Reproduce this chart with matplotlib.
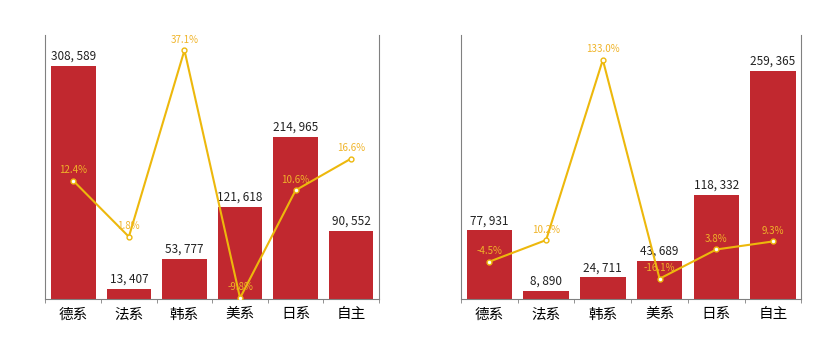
import matplotlib
matplotlib.use('Agg')
import matplotlib.pyplot as plt
import numpy as np

plt.rcParams['font.family'] = ['Noto Sans CJK SC', 'DejaVu Sans']

# Data.
categories = ['德系', '法系', '韩系', '美系', '日系', '自主']
left_sales = [308589, 13407, 53777, 121618, 214965, 90552]
left_growth = [12.4, 1.8, 37.1, -9.8, 10.6, 16.6]
right_sales = [77931, 8890, 24711, 43689, 118332, 259365]
right_growth = [-4.5, 10.2, 133.0, -16.1, 3.8, 9.3]

bar_color = '#C1282F'
line_color = '#EDB80C'
label_color = '#F0B429'
axis_color = '#808080'


def draw_panel(fig, rect, sales, growth, ymax, glim):
    ax = fig.add_axes(rect)
    x = np.arange(len(categories))
    ax.bar(x, sales, width=0.8, color=bar_color, zorder=2)
    ax.set_xlim(-0.5, len(categories) - 0.5)
    ax.set_ylim(0, ymax)
    for xi, v in zip(x, sales):
        ax.text(xi, v + ymax * 0.012, f'{v:,}'.replace(',', ', '),
                ha='center', va='bottom', fontsize=8.5, color='#222222')

    # Category labels, ticks sit between the bars.
    ax.set_xticks(x)
    ax.set_xticklabels(categories, fontsize=10.5)
    ax.tick_params(axis='x', which='major', length=0, pad=6)
    ax.set_xticks(np.arange(-0.5, len(categories), 1), minor=True)
    ax.tick_params(axis='x', which='minor', length=3, color=axis_color)
    ax.set_yticks([])
    for side in ['left', 'right', 'bottom']:
        ax.spines[side].set_color(axis_color)
    ax.spines['top'].set_visible(False)

    # Growth line on an invisible secondary axis.
    ax2 = ax.twinx()
    ax2.plot(x, growth, color=line_color, linewidth=1.5, marker='o',
             markersize=3.5, markerfacecolor='white',
             markeredgecolor=line_color, markeredgewidth=1, zorder=3)
    ax2.set_ylim(*glim)
    ax2.set_yticks([])
    for side in ['left', 'right', 'bottom', 'top']:
        ax2.spines[side].set_visible(False)
    for xi, g in zip(x, growth):
        ax2.annotate(f'{g:.1f}%', (xi, g), xytext=(0, 4),
                     textcoords='offset points', ha='center', va='bottom',
                     fontsize=7, color=label_color)
    return ax


fig = plt.figure(figsize=(8.27, 3.49), dpi=100)
draw_panel(fig, [0.055, 0.143, 0.4033, 0.757], left_sales, left_growth,
           350000, (-10, 40))
draw_panel(fig, [0.5574, 0.143, 0.4117, 0.757], right_sales, right_growth,
           300000, (-30, 150))

fig.savefig('out.png', dpi=100)
